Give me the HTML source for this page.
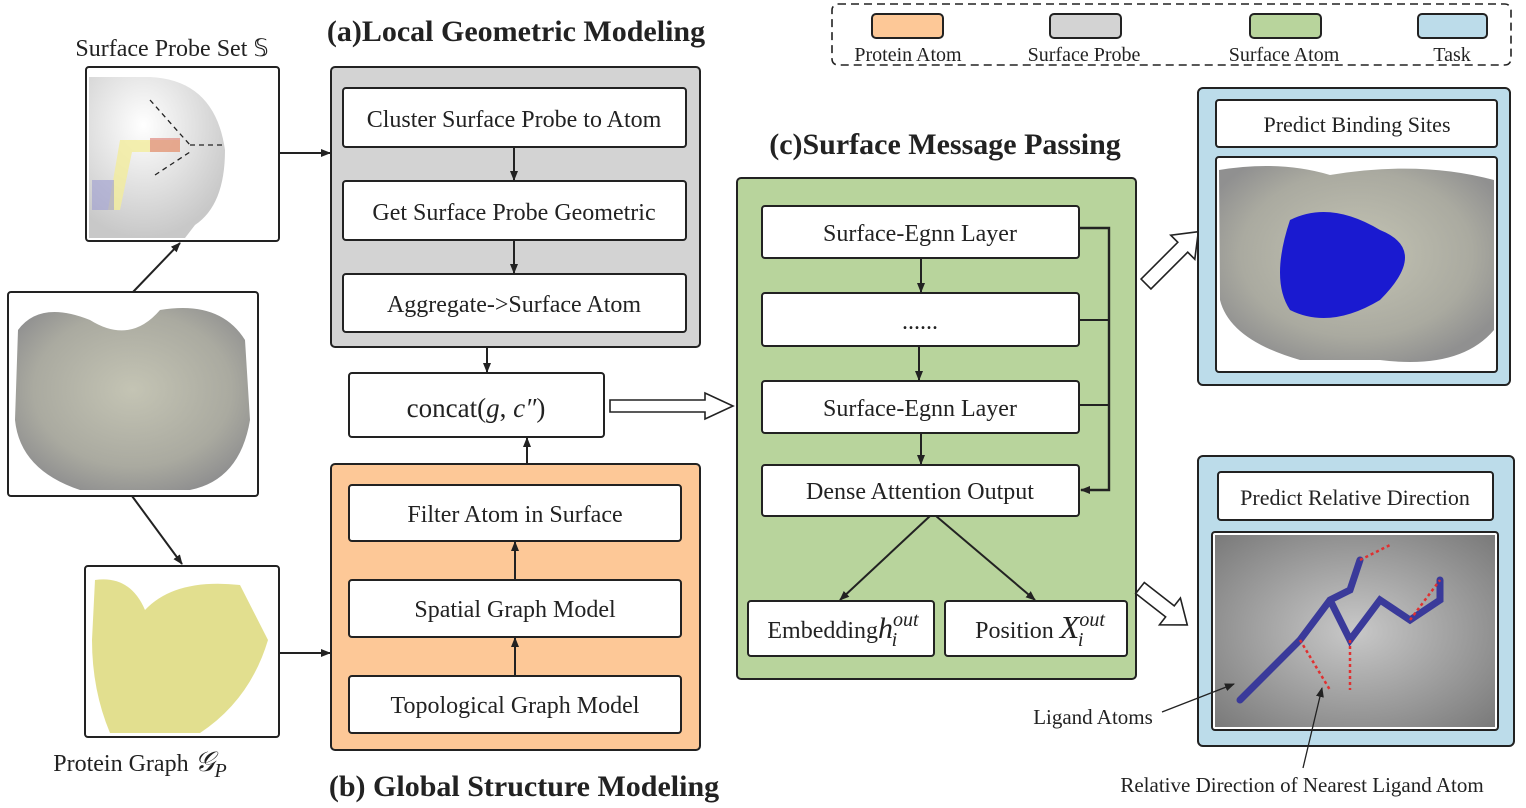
<!DOCTYPE html>
<html><head><meta charset="utf-8"><style>
html,body{margin:0;padding:0;background:#fff}
svg{display:block}
text{font-family:"Liberation Serif",serif;fill:#222}
</style></head><body>
<svg width="1526" height="808" viewBox="0 0 1526 808" xmlns="http://www.w3.org/2000/svg">
<defs>
<marker id="ah" markerWidth="10" markerHeight="10" refX="9" refY="5" orient="auto" markerUnits="userSpaceOnUse">
<path d="M0,1 L10,5 L0,9 z" fill="#222"/></marker>
<radialGradient id="blob" cx="50%" cy="45%" r="60%"><stop offset="0" stop-color="#c4c4b4"/><stop offset="0.7" stop-color="#aaaaa0"/><stop offset="1" stop-color="#909090"/></radialGradient>
<radialGradient id="probe" cx="40%" cy="30%" r="70%"><stop offset="0" stop-color="#ffffff"/><stop offset="1" stop-color="#c8c8c8"/></radialGradient>
<radialGradient id="pocket" cx="50%" cy="50%" r="70%"><stop offset="0" stop-color="#c8c8c8"/><stop offset="1" stop-color="#7a7a7a"/></radialGradient>
</defs>
<g stroke="#222" stroke-width="2" fill="none">
<rect x="832" y="4" width="679" height="61" rx="6" stroke-dasharray="8,5" stroke-width="1.6"/>
<rect x="872" y="14" width="71" height="24" rx="4" fill="#fdc897"/>
<rect x="1050" y="14" width="71" height="24" rx="4" fill="#d3d3d3"/>
<rect x="1250" y="14" width="71" height="24" rx="4" fill="#b8d49c"/>
<rect x="1418" y="14" width="69" height="24" rx="4" fill="#bcdcea"/>
<rect x="331" y="67" width="369" height="280" rx="4" fill="#d3d3d3"/>
<rect x="343" y="88" width="343" height="59" rx="3" fill="#fff"/>
<rect x="343" y="181" width="343" height="59" rx="3" fill="#fff"/>
<rect x="343" y="274" width="343" height="58" rx="3" fill="#fff"/>
<line x1="514" y1="147" x2="514" y2="180" marker-end="url(#ah)"/>
<line x1="514" y1="240" x2="514" y2="273" marker-end="url(#ah)"/>
<line x1="487" y1="347" x2="487" y2="372" marker-end="url(#ah)"/>
<rect x="349" y="373" width="255" height="64" rx="3" fill="#fff"/>
<line x1="527" y1="464" x2="527" y2="438" marker-end="url(#ah)"/>
<rect x="331" y="464" width="369" height="286" rx="4" fill="#fdc897"/>
<rect x="349" y="485" width="332" height="56" rx="3" fill="#fff"/>
<rect x="349" y="580" width="332" height="57" rx="3" fill="#fff"/>
<rect x="349" y="676" width="332" height="57" rx="3" fill="#fff"/>
<line x1="515" y1="676" x2="515" y2="638" marker-end="url(#ah)"/>
<line x1="515" y1="580" x2="515" y2="542" marker-end="url(#ah)"/>
<path d="M610,400 L705,400 L705,393 L733,406 L705,419 L705,412 L610,412 z" fill="#fff" stroke-width="1.6"/>
<rect x="737" y="178" width="399" height="501" rx="4" fill="#b8d49c"/>
<rect x="762" y="206" width="317" height="52" rx="3" fill="#fff"/>
<rect x="762" y="293" width="317" height="53" rx="3" fill="#fff"/>
<rect x="762" y="381" width="317" height="52" rx="3" fill="#fff"/>
<rect x="762" y="465" width="317" height="51" rx="3" fill="#fff"/>
<line x1="921" y1="258" x2="921" y2="292" marker-end="url(#ah)"/>
<line x1="919" y1="346" x2="919" y2="380" marker-end="url(#ah)"/>
<line x1="921" y1="433" x2="921" y2="464" marker-end="url(#ah)"/>
<path d="M1080,228 L1109,228 L1109,490 L1081,490" marker-end="url(#ah)" stroke-width="2.4"/>
<line x1="1080" y1="320" x2="1109" y2="320"/>
<line x1="1080" y1="405" x2="1109" y2="405"/>
<line x1="930" y1="516" x2="840" y2="600" marker-end="url(#ah)"/>
<line x1="936" y1="516" x2="1035" y2="600" marker-end="url(#ah)"/>
<rect x="748" y="601" width="186" height="55" rx="3" fill="#fff"/>
<rect x="945" y="601" width="182" height="55" rx="3" fill="#fff"/>
<g transform="translate(1146,284) rotate(-45)"><path d="M0,-7 L52,-7 L52,-17 L74,0 L52,17 L52,7 L0,7 z" fill="#fff" stroke-width="1.6"/></g>
<g transform="translate(1140,588) rotate(38)"><path d="M0,-7 L38,-7 L38,-17 L60,0 L38,17 L38,7 L0,7 z" fill="#fff" stroke-width="1.6"/></g>
<rect x="1198" y="88" width="312" height="297" rx="5" fill="#bcdcea"/>
<rect x="1216" y="100" width="281" height="47" rx="3" fill="#fff"/>
<rect x="1216" y="157" width="281" height="215" rx="3" fill="#fff"/>
<rect x="1198" y="456" width="316" height="290" rx="5" fill="#bcdcea"/>
<rect x="1218" y="472" width="275" height="48" rx="3" fill="#fff"/>
<rect x="1212" y="532" width="286" height="198" rx="3" fill="#fff"/>
<rect x="86" y="67" width="193" height="174" rx="3" fill="#fff"/>
<rect x="8" y="292" width="250" height="204" rx="3" fill="#fff"/>
<rect x="85" y="566" width="194" height="171" rx="3" fill="#fff"/>
<line x1="133" y1="292" x2="180" y2="243" marker-end="url(#ah)"/>
<line x1="132" y1="496" x2="182" y2="564" marker-end="url(#ah)"/>
<line x1="280" y1="153" x2="330" y2="153" marker-end="url(#ah)"/>
<line x1="280" y1="653" x2="330" y2="653" marker-end="url(#ah)"/>
</g>
<g stroke="none">
<path d="M89,77 L150,77 Q215,80 225,150 Q225,205 195,225 L185,238 L89,238 z" fill="url(#probe)"/>
<path d="M120,140 L180,140 L180,152 L132,152 L120,210 L108,210 z" fill="#f2ec9c" opacity="0.8"/>
<rect x="150" y="138" width="30" height="14" fill="#e08a80" opacity="0.7"/>
<rect x="92" y="180" width="22" height="30" fill="#9c9cd0" opacity="0.6"/>
<path d="M18,330 Q40,300 90,320 Q130,345 160,310 Q220,300 245,340 L250,420 Q240,480 190,490 L80,490 Q20,470 15,420 z" fill="url(#blob)"/>
<path d="M95,580 Q130,575 145,610 Q175,578 240,585 L268,640 Q250,700 200,733 L110,733 Q92,690 92,640 z" fill="#d8d46a" opacity="0.75"/>
<path d="M1219,170 Q1280,160 1330,175 Q1420,160 1494,180 L1494,330 Q1460,370 1380,360 L1300,360 Q1230,340 1220,300 z" fill="url(#blob)"/>
<path d="M1290,220 Q1330,200 1380,230 Q1430,250 1380,300 Q1330,330 1290,310 Q1270,280 1290,220 z" fill="#1a1ad0"/>
<rect x="1215" y="535" width="280" height="192" fill="url(#pocket)"/>
<g stroke="#3a3a9a" stroke-width="7" fill="none" stroke-linecap="round">
<path d="M1240,700 L1270,670 L1300,640 L1330,600 L1350,590 L1360,560 M1330,600 L1350,640 L1380,600 L1410,620 L1440,600 L1440,580"/>
</g>
<g stroke="#e03030" stroke-width="2.5" stroke-dasharray="3,3" fill="none">
<path d="M1300,640 L1330,690 M1350,640 L1350,690 M1410,620 L1440,580 M1360,560 L1390,545"/>
</g>
</g>
<g stroke="#222" stroke-width="1.3" fill="none">
<line x1="1162" y1="712" x2="1234" y2="684" marker-end="url(#ah)"/>
<line x1="1303" y1="768" x2="1322" y2="688" marker-end="url(#ah)"/>
<g stroke-dasharray="5,4"><line x1="150" y1="100" x2="190" y2="145"/><line x1="190" y1="145" x2="225" y2="145"/><line x1="155" y1="175" x2="190" y2="152"/></g>
</g>
<g font-size="24" text-anchor="middle">
<text x="516" y="41" font-weight="bold" font-size="30">(a)Local Geometric Modeling</text>
<text x="524" y="796" font-weight="bold" font-size="30">(b) Global Structure Modeling</text>
<text x="945" y="154" font-weight="bold" font-size="30">(c)Surface Message Passing</text>
<text x="514" y="127">Cluster Surface Probe to Atom</text>
<text x="514" y="220">Get Surface Probe Geometric</text>
<text x="514" y="312">Aggregate-&gt;Surface Atom</text>
<text x="476" y="417" font-size="27">concat(<tspan font-style="italic">g</tspan>, <tspan font-style="italic">c″</tspan>)</text>
<text x="515" y="522">Filter Atom in Surface</text>
<text x="515" y="617">Spatial Graph Model</text>
<text x="515" y="713">Topological Graph Model</text>
<text x="920" y="241">Surface-Egnn Layer</text>
<text x="920" y="329">......</text>
<text x="920" y="416">Surface-Egnn Layer</text>
<text x="920" y="499">Dense Attention Output</text>
<text x="843" y="638">Embedding<tspan font-style="italic" font-size="30">h</tspan><tspan font-style="italic" font-size="20" dy="-12">out</tspan><tspan font-style="italic" font-size="20" dx="-27" dy="20">i</tspan></text>
<text x="1040" y="638">Position <tspan font-style="italic" font-size="32">X</tspan><tspan font-style="italic" font-size="20" dy="-12">out</tspan><tspan font-style="italic" font-size="20" dx="-27" dy="20">i</tspan></text>
<text x="1357" y="132" font-size="22">Predict Binding Sites</text>
<text x="1355" y="505" font-size="22">Predict Relative Direction</text>
<text x="172" y="56">Surface Probe Set 𝕊</text>
<text x="140" y="771">Protein Graph <tspan font-style="italic" font-size="28">𝒢</tspan><tspan font-style="italic" font-size="20" dy="6">P</tspan></text>
<text x="1093" y="724" font-size="21">Ligand Atoms</text>
<text x="1302" y="792" font-size="21">Relative Direction of Nearest Ligand Atom</text>
<text x="908" y="61" font-size="20">Protein Atom</text>
<text x="1084" y="61" font-size="20">Surface Probe</text>
<text x="1284" y="61" font-size="20">Surface Atom</text>
<text x="1452" y="61" font-size="20">Task</text>
</g>
</svg>
</body></html>
